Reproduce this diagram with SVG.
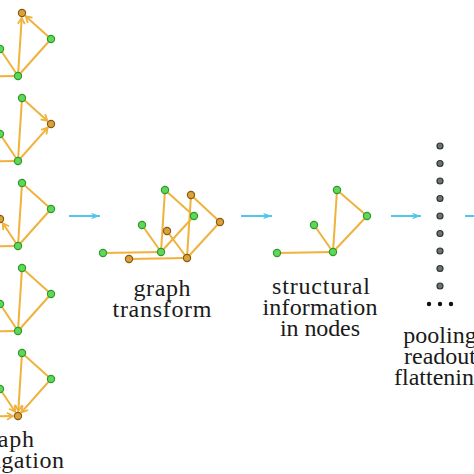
<svg xmlns="http://www.w3.org/2000/svg" width="474" height="474" viewBox="0 0 474 474">
<style>
.e{stroke:#efb23c;stroke-width:2;fill:none}
.ea{stroke:#efb23c;stroke-width:2;fill:none;marker-end:url(#oh)}
.g{fill:#5fd85a;stroke:#2f9a2c;stroke-width:1.2}
.o{fill:#d9a23a;stroke:#8a5a12;stroke-width:1.2}
.d{fill:#6b7472;stroke:#2e3432;stroke-width:1.2}
.k{fill:#111}
.c{stroke:#52c6ec;stroke-width:2;fill:none;marker-end:url(#ch)}
.t{font-family:"Liberation Serif",serif;font-size:24px;fill:#1a1a1a;text-anchor:middle}
</style>
<defs>
<marker id="oh" markerUnits="userSpaceOnUse" markerWidth="10" markerHeight="10" refX="7" refY="4" orient="auto" viewBox="0 0 10 8">
<path d="M1,0.5 L7,4 L1,7.5" fill="none" stroke="#efb23c" stroke-width="1.8"/>
</marker>
<marker id="ch" markerUnits="userSpaceOnUse" markerWidth="10" markerHeight="8" refX="9" refY="4" orient="auto" viewBox="0 0 10 8">
<path d="M0,0.8 L9,4 L0,7.2 L2.5,4 Z" fill="#52c6ec"/>
</marker>
</defs>
<g id="connectors">
<line class="e" x1="-38" y1="77" x2="18" y2="76"/>
<line class="e" x1="0" y1="49" x2="18" y2="76"/>
<line class="e" x1="51" y1="39" x2="18" y2="76"/>
<line class="ea" x1="18" y1="76" x2="21.7" y2="18"/>
<line class="ea" x1="51" y1="39" x2="25.7" y2="16.3"/>
<line class="e" x1="-38" y1="162" x2="18" y2="161"/>
<line class="e" x1="0" y1="134" x2="18" y2="161"/>
<line class="e" x1="22" y1="98" x2="18" y2="161"/>
<line class="ea" x1="22" y1="98" x2="47.3" y2="120.7"/>
<line class="ea" x1="18" y1="161" x2="47.7" y2="127.7"/>
<line class="e" x1="-38" y1="247" x2="18" y2="246"/>
<line class="e" x1="22" y1="183" x2="18" y2="246"/>
<line class="e" x1="22" y1="183" x2="51" y2="209"/>
<line class="e" x1="51" y1="209" x2="18" y2="246"/>
<line class="ea" x1="18" y1="246" x2="2.8" y2="223.2"/>
<line class="e" x1="0" y1="304" x2="18" y2="331"/>
<line class="e" x1="22" y1="268" x2="18" y2="331"/>
<line class="e" x1="22" y1="268" x2="51" y2="294"/>
<line class="e" x1="51" y1="294" x2="18" y2="331"/>
<line class="ea" x1="18" y1="331" x2="-33" y2="332"/>
<line class="e" x1="22" y1="353" x2="51" y2="379"/>
<line class="ea" x1="22" y1="353" x2="18.3" y2="411"/>
<line class="ea" x1="51" y1="379" x2="21.3" y2="412.3"/>
<line class="ea" x1="0" y1="389" x2="15.2" y2="411.8"/>
<line class="ea" x1="-38" y1="417" x2="13" y2="416.1"/>
<line class="e" x1="165" y1="190" x2="161" y2="252"/>
<line class="e" x1="165" y1="190" x2="194" y2="216"/>
<line class="e" x1="194" y1="216" x2="161" y2="252"/>
<line class="e" x1="142" y1="225" x2="161" y2="252"/>
<line class="e" x1="103" y1="253" x2="161" y2="252"/>
<line class="e" x1="191" y1="195" x2="187" y2="258"/>
<line class="e" x1="191" y1="195" x2="220" y2="222"/>
<line class="e" x1="220" y1="222" x2="187" y2="258"/>
<line class="e" x1="167" y1="231" x2="187" y2="258"/>
<line class="e" x1="129" y1="259" x2="187" y2="258"/>
<line class="e" x1="337" y1="190" x2="333" y2="252"/>
<line class="e" x1="337" y1="190" x2="367" y2="216"/>
<line class="e" x1="367" y1="216" x2="333" y2="252"/>
<line class="e" x1="314" y1="225" x2="333" y2="252"/>
<line class="e" x1="277" y1="253" x2="333" y2="252"/>
<line class="c" x1="69" y1="216" x2="100" y2="216"/>
<line class="c" x1="241" y1="216" x2="272" y2="216"/>
<line class="c" x1="391" y1="216" x2="421" y2="216"/>
<line class="c" x1="465" y1="216" x2="496" y2="216"/>
</g>
<g id="p1-T"><circle class="o" cx="22" cy="13" r="3.6"/></g>
<g id="p1-R"><circle class="g" cx="51" cy="39" r="3.6"/></g>
<g id="p1-C"><circle class="g" cx="18" cy="76" r="3.6"/></g>
<g id="p1-U"><circle class="g" cx="0" cy="49" r="3.6"/></g>
<g id="p1-L"><circle class="g" cx="-38" cy="77" r="3.6"/></g>
<g id="p2-T"><circle class="g" cx="22" cy="98" r="3.6"/></g>
<g id="p2-R"><circle class="o" cx="51" cy="124" r="3.6"/></g>
<g id="p2-C"><circle class="g" cx="18" cy="161" r="3.6"/></g>
<g id="p2-U"><circle class="g" cx="0" cy="134" r="3.6"/></g>
<g id="p2-L"><circle class="g" cx="-38" cy="162" r="3.6"/></g>
<g id="p3-T"><circle class="g" cx="22" cy="183" r="3.6"/></g>
<g id="p3-R"><circle class="g" cx="51" cy="209" r="3.6"/></g>
<g id="p3-C"><circle class="g" cx="18" cy="246" r="3.6"/></g>
<g id="p3-U"><circle class="o" cx="0" cy="219" r="3.6"/></g>
<g id="p3-L"><circle class="g" cx="-38" cy="247" r="3.6"/></g>
<g id="p4-T"><circle class="g" cx="22" cy="268" r="3.6"/></g>
<g id="p4-R"><circle class="g" cx="51" cy="294" r="3.6"/></g>
<g id="p4-C"><circle class="g" cx="18" cy="331" r="3.6"/></g>
<g id="p4-U"><circle class="g" cx="0" cy="304" r="3.6"/></g>
<g id="p4-L"><circle class="o" cx="-38" cy="332" r="3.6"/></g>
<g id="p5-T"><circle class="g" cx="22" cy="353" r="3.6"/></g>
<g id="p5-R"><circle class="g" cx="51" cy="379" r="3.6"/></g>
<g id="p5-C"><circle class="o" cx="18" cy="416" r="3.6"/></g>
<g id="p5-U"><circle class="g" cx="0" cy="389" r="3.6"/></g>
<g id="p5-L"><circle class="g" cx="-38" cy="417" r="3.6"/></g>
<g id="gt-T"><circle class="g" cx="165" cy="190" r="3.6"/></g>
<g id="gt-R"><circle class="g" cx="194" cy="216" r="3.6"/></g>
<g id="gt-U"><circle class="g" cx="142" cy="225" r="3.6"/></g>
<g id="gt-L"><circle class="g" cx="103" cy="253" r="3.6"/></g>
<g id="gt-C"><circle class="g" cx="161" cy="252" r="3.6"/></g>
<g id="gt-OT"><circle class="o" cx="191" cy="195" r="3.6"/></g>
<g id="gt-OR"><circle class="o" cx="220" cy="222" r="3.6"/></g>
<g id="gt-OU"><circle class="o" cx="167" cy="231" r="3.6"/></g>
<g id="gt-OL"><circle class="o" cx="129" cy="259" r="3.6"/></g>
<g id="gt-OC"><circle class="o" cx="187" cy="258" r="3.6"/></g>
<g id="si-T"><circle class="g" cx="337" cy="190" r="3.6"/></g>
<g id="si-R"><circle class="g" cx="367" cy="216" r="3.6"/></g>
<g id="si-U"><circle class="g" cx="314" cy="225" r="3.6"/></g>
<g id="si-L"><circle class="g" cx="277" cy="253" r="3.6"/></g>
<g id="si-C"><circle class="g" cx="333" cy="252" r="3.6"/></g>
<g id="vec">
<circle class="d" cx="440" cy="146" r="3"/>
<circle class="d" cx="440" cy="163.5" r="3"/>
<circle class="d" cx="440" cy="181" r="3"/>
<circle class="d" cx="440" cy="198.5" r="3"/>
<circle class="d" cx="440" cy="216" r="3"/>
<circle class="d" cx="440" cy="233.5" r="3"/>
<circle class="d" cx="440" cy="251" r="3"/>
<circle class="d" cx="440" cy="268.5" r="3"/>
<circle class="d" cx="440" cy="286" r="3"/>
<circle class="k" cx="429" cy="304" r="2.2"/>
<circle class="k" cx="440" cy="304" r="2.2"/>
<circle class="k" cx="451" cy="304" r="2.2"/>
</g>
<g id="labels">
<text class="t" x="5" y="447" textLength="58">graph</text>
<text class="t" x="4" y="468" textLength="120">propagation</text>
<text class="t" x="162" y="296" textLength="57">graph</text>
<text class="t" x="162" y="317" textLength="99">transform</text>
<text class="t" x="321" y="294" textLength="98">structural</text>
<text class="t" x="320" y="315" textLength="115">information</text>
<text class="t" x="320" y="336" textLength="80">in nodes</text>
<text class="t" x="440" y="343">pooling</text>
<text class="t" x="440" y="364">readout</text>
<text class="t" x="440" y="385">flattening</text>
</g>
</svg>
